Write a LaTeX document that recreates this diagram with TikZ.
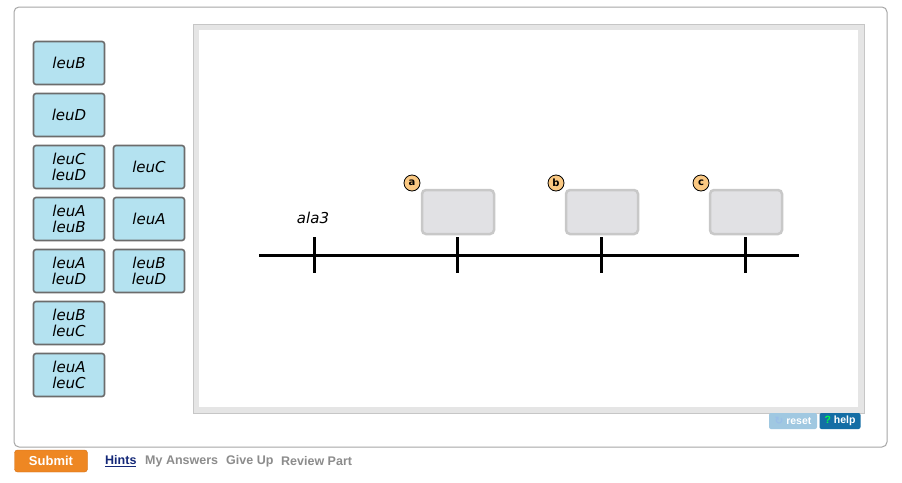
\documentclass[tikz,border=0pt]{standalone}
\usepackage{fontspec}
\setmainfont{DejaVu Sans}
\newfontfamily\arialf{Liberation Sans}
\newfontfamily\dvs{DejaVu Sans}
\begin{document}
\begin{tikzpicture}[x=1pt,y=-1pt,
 tile/.style={draw=gray!85!black,line width=1.6pt,fill={rgb,255:red,180;green,226;blue,240},rounded corners=2.5pt,minimum width=71pt,minimum height=43pt,font=\itshape\fontsize{15}{16}\selectfont,align=center,inner sep=0pt},
 slot/.style={draw={rgb,255:red,200;green,200;blue,200},line width=2.5pt,fill={rgb,255:red,225;green,225;blue,228},rounded corners=4pt,minimum width=72pt,minimum height=44pt},
 tag/.style={circle,draw=black,line width=0.8pt,fill={rgb,255:red,250;green,200;blue,130},inner sep=0pt,minimum size=16pt,font=\bfseries\fontsize{10}{10}\selectfont},
 tick/.style={line width=3pt},
 lnk/.style={font=\arialf\bfseries\fontsize{12.5}{12}\selectfont,text=gray!90,anchor=west,inner sep=0pt}]
\useasboundingbox (0,0) rectangle (902,482);
\fill[white] (0,0) rectangle (902,482);
\draw[gray!70,line width=1pt,rounded corners=5pt] (14,7) rectangle (887,447);
\draw[gray!20,line width=6pt] (196,27) rectangle (861,410);
\draw[gray!45,line width=0.8pt] (193,24) rectangle (864,413);
\fill[white] (199,30) rectangle (858,407);
% tiles
\node[tile] (t1) at (69,63) {leuB};
\node[tile] (t2) at (69,115) {leuD};
\node[tile] (t3) at (69,167) {leuC\\leuD};
\node[tile] (t4) at (69,219) {leuA\\leuB};
\node[tile] (t5) at (69,271) {leuA\\leuD};
\node[tile] (t6) at (69,323) {leuB\\leuC};
\node[tile] (t7) at (69,375) {leuA\\leuC};
\node[tile] (u1) at (149,167) {leuC};
\node[tile] (u2) at (149,219) {leuA};
\node[tile] (u3) at (149,271) {leuB\\leuD};
% axis
\coordinate (L) at (259,255); \coordinate (R) at (799,255);
\draw[line width=3pt] (L) -- (R);
\foreach \x/\n in {314/k0,457/k1,601/k2,745/k3}{\coordinate (\n) at (\x,255); \draw[tick] (\x,237) -- (\x,273);}
\node[font=\itshape\fontsize{15}{16}\selectfont] (ala) at (313,218) {ala3};
\node[slot] (sa) at (458,212) {};
\node[slot] (sb) at (602,212) {};
\node[slot] (sc) at (746,212) {};
\node[tag] (ta) at (412,183) {a};
\node[tag] (tb) at (556,183) {b};
\node[tag] (tc) at (701,183) {c};
% buttons
\node[fill={rgb,255:red,160;green,200;blue,225},rounded corners=2pt,minimum width=48pt,minimum height=16pt,inner sep=0pt,text=white,font=\arialf\bfseries\fontsize{10.5}{10}\selectfont] (reset) at (793,421) {\textcolor{cyan!60!blue!40}{\dvs\char"21BB}~reset};
\node[fill={rgb,255:red,20;green,110;blue,165},rounded corners=2pt,minimum width=41pt,minimum height=16pt,inner sep=0pt,text=white,font=\arialf\bfseries\fontsize{10.5}{10}\selectfont] (help) at (840,421) {\textcolor{green!70!cyan}{?}~help};
\node[fill={rgb,255:red,238;green,135;blue,35},draw={rgb,255:red,210;green,110;blue,20},rounded corners=3pt,minimum width=73pt,minimum height=22pt,inner sep=0pt,text=white,font=\arialf\bfseries\fontsize{13}{12}\selectfont] (sub) at (51,461) {Submit};
\node[lnk,text={rgb,255:red,20;green,40;blue,120}] (hints) at (105,461) {\underline{Hints}};
\node[lnk] (my) at (145,461) {My Answers};
\node[lnk] (give) at (226,461) {Give Up};
\node[lnk] (rev) at (281,461) {Review Part};
\end{tikzpicture}
\end{document}
